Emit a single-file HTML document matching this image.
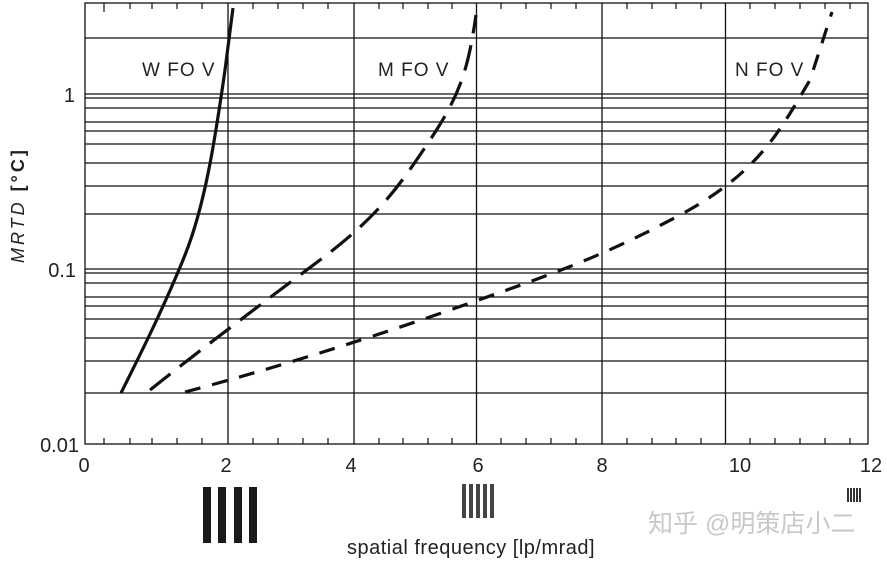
<!DOCTYPE html>
<html><head><meta charset="utf-8"><style>
body{margin:0;background:#fff}
svg text{font-family:"Liberation Sans",sans-serif;fill:#222}
</style></head><body>
<svg width="887" height="562" viewBox="0 0 887 562" xmlns="http://www.w3.org/2000/svg">
<g stroke="#111" stroke-width="1.3" fill="none">
<rect x="85" y="3" width="783" height="441"/>
<line x1="228" y1="3" x2="228" y2="444"/>
<line x1="354" y1="3" x2="354" y2="444"/>
<line x1="476.5" y1="3" x2="476.5" y2="444"/>
<line x1="602" y1="3" x2="602" y2="444"/>
<line x1="725.5" y1="3" x2="725.5" y2="444"/>
<line x1="85" y1="38" x2="868" y2="38"/>
<line x1="85" y1="94" x2="868" y2="94"/>
<line x1="85" y1="98" x2="868" y2="98"/>
<line x1="85" y1="108" x2="868" y2="108"/>
<line x1="85" y1="122" x2="868" y2="122"/>
<line x1="85" y1="131" x2="868" y2="131"/>
<line x1="85" y1="144" x2="868" y2="144"/>
<line x1="85" y1="163" x2="868" y2="163"/>
<line x1="85" y1="186" x2="868" y2="186"/>
<line x1="85" y1="214" x2="868" y2="214"/>
<line x1="85" y1="269" x2="868" y2="269"/>
<line x1="85" y1="273" x2="868" y2="273"/>
<line x1="85" y1="283" x2="868" y2="283"/>
<line x1="85" y1="297" x2="868" y2="297"/>
<line x1="85" y1="306" x2="868" y2="306"/>
<line x1="85" y1="319" x2="868" y2="319"/>
<line x1="85" y1="338" x2="868" y2="338"/>
<line x1="85" y1="361" x2="868" y2="361"/>
<line x1="85" y1="393" x2="868" y2="393"/>
</g>
<g stroke="#111" stroke-width="1.2" id="ticks">
<path d="M104 444v-6M130 444v-6M152 444v-6M177 444v-6M202 444v-6M253 444v-6M278 444v-6M303 444v-6M328 444v-6M379 444v-6M403 444v-6M428 444v-6M452 444v-6M501 444v-6M526 444v-6M551 444v-6M576 444v-6M627 444v-6M652 444v-6M676 444v-6M701 444v-6M750 444v-6M775 444v-6M800 444v-6M825 444v-6M850 444v-6"/>
<path d="M104 3v9M130 3v6M152 3v6M177 3v6M202 3v6M253 3v6M278 3v6M303 3v6M328 3v6M379 3v6M403 3v6M428 3v6M452 3v6M501 3v6M526 3v6M551 3v6M576 3v6M627 3v6M652 3v6M676 3v6M701 3v6M750 3v6M775 3v6M800 3v6M825 3v6M850 3v6"/>
</g>
<g fill="none" stroke="#111" stroke-width="3.2">
<path d="M121 393 C140 355,165 305,185 255 S215 140,225 70 L233 8"/>
<path stroke-dasharray="26,12" d="M150 390 C200 350,260 305,320 260 S400 185,430 140 S468 70,476 15"/>
<path stroke-dasharray="16,12" d="M185 392 C250 375,350 345,450 310 S600 258,680 215 S780 130,810 80 L832 12"/>
</g>
<g font-size="19" letter-spacing="1">
<text x="142" y="76">W FO V</text>
<text x="378" y="76">M FO V</text>
<text x="735" y="76">N FO V</text>
</g>
<g font-size="20" text-anchor="end">
<text x="75" y="102">1</text>
<text x="76" y="277">0.1</text>
<text x="79" y="452">0.01</text>
</g>
<g font-size="20" text-anchor="middle">
<text x="84" y="472">0</text>
<text x="226" y="472">2</text>
<text x="351" y="472">4</text>
<text x="478" y="472">6</text>
<text x="602" y="472">8</text>
<text x="740" y="472">10</text>
<text x="871" y="472">12</text>
</g>
<text transform="translate(24,263) rotate(-90)" font-size="18" font-weight="bold" letter-spacing="3"><tspan font-style="italic" font-weight="normal">MRTD</tspan> [°C]</text>
<g fill="#1a1a1a">
<rect x="203" y="487" width="8" height="56"/><rect x="218" y="487" width="8" height="56"/><rect x="234" y="487" width="8" height="56"/><rect x="249" y="487" width="8" height="56"/>
</g>
<g fill="#444">
<rect x="462" y="484" width="4" height="34"/><rect x="469" y="484" width="4" height="34"/><rect x="476" y="484" width="4" height="34"/><rect x="483" y="484" width="4" height="34"/><rect x="490" y="484" width="4" height="34"/>
</g>
<g fill="#333">
<rect x="847" y="488" width="2" height="14"/><rect x="850" y="488" width="2" height="14"/><rect x="853" y="488" width="2" height="14"/><rect x="856" y="488" width="2" height="14"/><rect x="859" y="488" width="2" height="14"/>
</g>
<text x="347" y="554" font-size="20" letter-spacing="0.5">spatial frequency [lp/mrad]</text>
<text x="648" y="532" font-size="25" style="fill:#c8c8c8;font-family:'Liberation Sans','Noto Sans CJK SC',sans-serif">知乎 @明策店小二</text>
</svg>
</body></html>
